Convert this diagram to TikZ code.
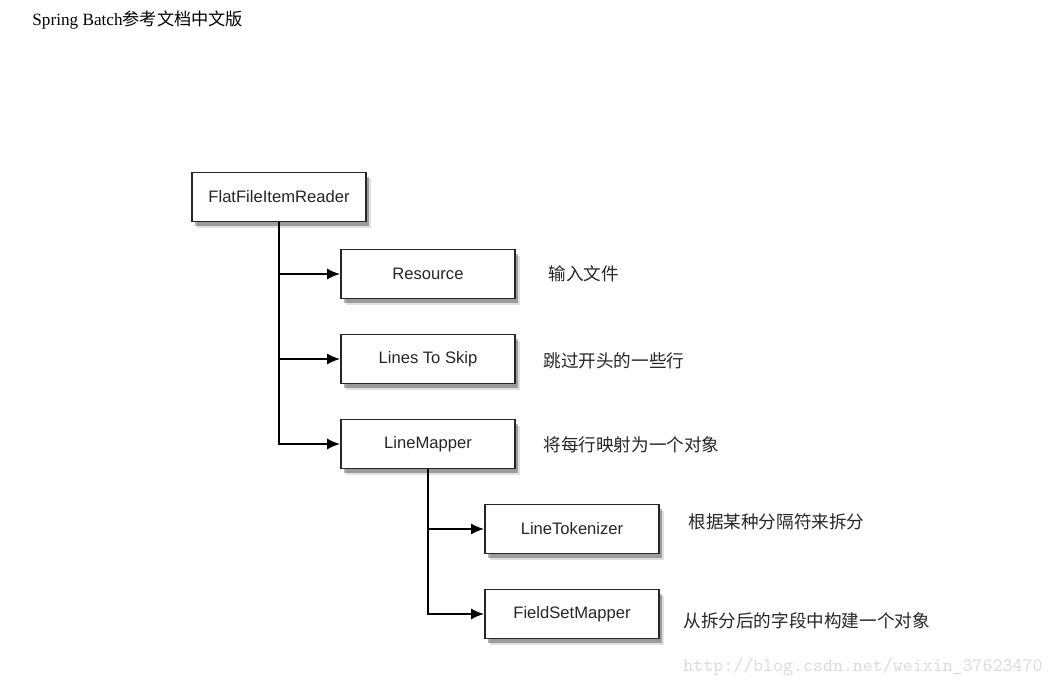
\documentclass[tikz,border=0pt]{standalone}
\usepackage{fontspec}
\setmainfont{Liberation Serif}
\newfontfamily\boxfont{Liberation Sans}
\newfontfamily\cjk{Noto Sans CJK SC}
\usetikzlibrary{arrows.meta,shadows}

\begin{document}
\begin{tikzpicture}[x=0.5pt, y=-0.5pt,
  part/.style={draw=black!85, line width=0.8pt, fill=white, minimum width=87pt, minimum height=24.5pt,
    inner sep=0pt, font=\boxfont\fontsize{8.3}{10}\selectfont, text=black!85,
    drop shadow={shadow xshift=2.5pt, shadow yshift=-3.5pt, opacity=0.12, fill=black},
    drop shadow={shadow xshift=1.5pt, shadow yshift=-2.5pt, opacity=0.3, fill=black}},
  note/.style={anchor=west, inner sep=0pt, font=\cjk\fontsize{8.8}{11}\selectfont, text=black!85},
  link/.style={line width=1pt, -{Latex[length=6.5pt, width=5.5pt]}}]

 %%%%%%%%%% Cadre %%%%%%%%%%
 \useasboundingbox (0,0) rectangle (1054,688);
 \fill[white] (0,0) rectangle (1054,688);

 %%%%%%%%%% Titre %%%%%%%%%%
 \node[anchor=west, inner sep=0pt, font=\fontsize{8.6}{10}\selectfont] (title) at (32,20)
   {Spring Batch{\cjk 参考文档中文版}};

 %%%%%%%%%% Boites %%%%%%%%%%
 \node[part] (reader) at (279,197) {FlatFileItemReader};
 \node[part] (resource) at (428,274) {Resource};
 \node[part] (skip) at (428,359) {Lines To Skip};
 \node[part] (mapper) at (428,444) {LineMapper};
 \node[part] (tokenizer) at (572,529) {LineTokenizer};
 \node[part] (fieldset) at (572,614) {FieldSetMapper};

 %%%%%%%%%% Fleches %%%%%%%%%%
 \draw[link] (reader.south) |- (resource.west);
 \draw[link] (reader.south) |- (skip.west);
 \draw[link] (reader.south) |- (mapper.west);
 \draw[link] (mapper.south) |- (tokenizer.west);
 \draw[link] (mapper.south) |- (fieldset.west);

 %%%%%%%%%% Commentaires %%%%%%%%%%
 \node[note] (resnote) at (548,274) {输入文件};
 \node[note] (skipnote) at (543,361) {跳过开头的一些行};
 \node[note] (mapnote) at (543,445) {将每行映射为一个对象};
 \node[note] (toknote) at (688,522) {根据某种分隔符来拆分};
 \node[note] (fsnote) at (683,621) {从拆分后的字段中构建一个对象};

 % Filigrane
 \node[anchor=west, inner sep=0pt, text=black!14, font=\fontfamily{lmtt}\fontsize{9.5}{11}\selectfont] (mark) at (683,667)
   {http://blog.csdn.net/weixin\_37623470};

\end{tikzpicture}
\end{document}
